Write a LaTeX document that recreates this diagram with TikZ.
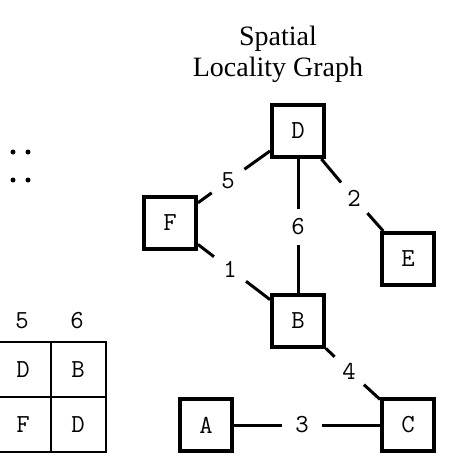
\documentclass[tikz,border=0pt]{standalone}
\usepackage{fontspec}
\setmainfont{Liberation Serif}
\newcommand{\lblfont}{\ttfamily\fontsize{26}{29}\selectfont}
\begin{document}
\begin{tikzpicture}[x=1pt,y=-1pt,
  vbox/.style={draw, line width=4pt, inner sep=0pt, minimum size=52pt, font=\lblfont},
  elab/.style={circle, inner sep=0pt, minimum size=40pt, font=\lblfont},
  edge/.style={line width=3pt},
  ttl/.style={anchor=base, font=\fontsize{28}{31}\selectfont},
  cell/.style={font=\lblfont},
  grid/.style={line width=2pt},
  dot/.style={circle, fill=black, inner sep=0pt, minimum size=5pt}]
\useasboundingbox (0,0) rectangle (474,474);
\clip (0,0) rectangle (474,474);
% title
\node[ttl] (t1) at (278,45) {Spatial};
\node[ttl] (t2) at (278,76) {Locality Graph};
% dots
\node[dot] (d1) at (13,152) {};
\node[dot] (d2) at (28,152) {};
\node[dot] (d3) at (13,180) {};
\node[dot] (d4) at (28,180) {};
% table
\draw[grid] (-4,342) rectangle (106,452);
\draw[grid] (51,342) -- (51,452);
\draw[grid] (-4,397) -- (106,397);
\node[cell] (h5) at (22,321) {5};
\node[cell] (h6) at (77,321) {6};
\node[cell] (c11) at (23,370) {D};
\node[cell] (c12) at (78,370) {B};
\node[cell] (c21) at (23,425) {F};
\node[cell] (c22) at (78,425) {D};
% graph nodes
\node[vbox] (D) at (298,131) {D};
\node[vbox] (F) at (170,223) {F};
\node[vbox] (B) at (298,321) {B};
\node[vbox] (A) at (206,425) {A};
\node[vbox] (C) at (408,425) {C};
\node[vbox] (E) at (408,259) {E};
% edge labels
\node[elab] (l5) at (228,181) {5};
\node[elab, minimum size=36pt] (l6) at (298,227) {6};
\node[elab] (l2) at (354,198) {2};
\node[elab] (l1) at (230,269) {1};
\node[elab] (l4) at (349,371) {4};
\node[elab] (l3) at (302,425) {3};
% edges
\draw[edge] (D) -- (l5) -- (F);
\draw[edge] (D) -- (l6) -- (B);
\draw[edge] (D) -- (l2) -- (E);
\draw[edge] (F) -- (l1) -- (B);
\draw[edge] (B) -- (l4) -- (C);
\draw[edge] (A) -- (l3) -- (C);
\end{tikzpicture}
\end{document}
